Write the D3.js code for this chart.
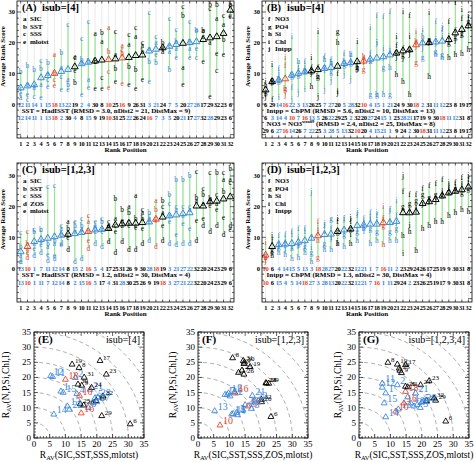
<!DOCTYPE html>
<html>
<head>
<meta charset="utf-8">
<script src="https://cdn.jsdelivr.net/npm/d3@7"></script>
<style>
body { margin: 0; background: #fff; }
svg { display: block; }
text { font-family: "Liberation Serif", "DejaVu Serif", serif; }
</style>
</head>
<body>
<svg id="canvas" width="474" height="462"></svg>
<script>
// model groups (colour of the numbers / marks)
let blueModels = [1, 2, 3, 4, 5, 7, 11, 12, 13, 14, 15, 21, 22, 27, 28]
let redModels = [10, 16, 18]

// Panel A: isub=[4], letters a SIC, b SST, c SSS, e mlotst (values by rank position)
let rankA = [12,11,14,1,15,18,13,22,19,2,4,30,8,10,25,16,9,26,31,3,21,24,7,5,20,27,28,17,29,32,23,6]
let sstA  = [12,14,11,1,13,18,2,30,4,8,15,9,19,10,31,25,22,26,24,16,7,3,5,20,21,17,27,32,28,29,23,6]
let A_a = [2.0,6.5,5.5,6.5,10.0,16.1,12.0,8.0,15.5,13.5,8.0,23.0,20.4,24.8,16.0,19.0,19.3,22.0,19.0,18.0,20.0,17.0,17.0,18.0,12.0,18.0,24.2,24.0,20.0,28.0,26.0,32.4]
let A_b = [10.6,12.6,11.2,11.5,13.5,10.0,16.8,6.5,7.0,14.5,14.0,14.0,23.2,17.0,11.7,16.6,12.3,11.2,17.0,14.0,13.4,20.0,11.2,20.4,29.0,20.0,24.0,24.0,32.4,32.4,21.0,32.4]
let A_c = [5.0,1.5,2.5,14.2,8.0,7.9,9.0,25.9,15.0,21.5,27.0,14.0,8.5,10.6,23.7,17.7,22.8,24.8,20.0,29.7,22.0,18.3,28.0,24.2,31.8,27.0,15.0,22.0,31.3,11.0,29.0,29.0]
let A_e = [3.5,3.0,6.0,2.0,5.7,6.0,4.7,4.7,11.0,3.0,5.5,5.0,5.2,5.5,7.4,6.8,6.3,5.2,7.9,7.4,16.0,18.0,19.0,15.0,6.3,15.0,18.0,14.0,2.5,16.4,16.0,28.6]

// Panel B: isub=[4], letters f NO3, g PO4, h Si, i Chl, j Intpp
let rankB  = [6,29,14,16,22,3,13,26,25,7,27,20,5,28,32,10,4,15,1,21,24,9,30,18,2,31,11,12,23,8,19,17]
let intppB = [6,3,14,4,10,7,16,13,5,26,22,29,25,2,32,20,27,24,15,1,23,28,21,17,19,9,30,18,11,12,31,8]
let no3B   = [29,6,27,16,14,26,7,22,25,3,28,5,13,32,10,20,4,15,21,1,9,24,2,30,18,31,11,12,23,8,19,17]
let B_f = [3,1.5,11.7,12.5,5.3,10.6,13.9,12,12,15.5,14.5,10,16.6,16,13,14,16.6,29,28.6,30.2,19,18,29,20,20,20,27,24.2,27,24,28,28]
let B_g = [4,8,7.5,5.2,9.2,9.5,11,11,9,12.3,10.6,23.7,13,13.4,12,11.2,3,3,12,3,17,16,18,13.4,15,21,17,16,20,22,23,27]
let B_h = [6,7,8,5.2,9.2,14,10.6,5.8,9,14.5,13.5,20,14,16,12,15.5,14,3,3,12,9.6,7.4,3,20.4,22,9,16.1,15,15,16,16.6,17.7]
let B_i = [7.4,12.8,2,15,22,12.3,4.7,15,23.7,11,13.4,4.1,12.8,14,20.4,15,25,20,18,17,22,30.2,22,23.7,24.2,29.7,21,22,22,33,30.8,29]
let B_j = [2.5,7.2,9.8,3.1,1.4,3.6,12.3,10.2,2.3,4.7,7.5,3.7,9.6,8.1,11.6,14.3,14.4,20,15.4,17.8,15.4,15,16.5,19,18.3,20.3,20,25.3,21,21,23.1,25.8]

// Panel C: isub=[1,2,3], letters a SIC, b SST, c SSS, d ZOS, e mlotst
let rankC = [13,10,1,7,11,12,14,8,15,2,16,5,4,17,25,31,26,9,30,28,18,19,3,21,27,22,32,20,24,23,29,6]
let sstC  = [13,10,1,11,7,12,14,8,2,15,16,5,17,4,31,28,30,25,26,9,19,18,3,27,21,22,32,20,24,23,29,6]
let C_a = [4,6.5,8,9,7,8,13,15,12,13,15,14,13,14,16,14,20,23.7,18,16,22,18,17,19,17,19,22,21,22,21,29,29]
let C_b = [7,8,12,12.5,8,9,11,13,14,14,12,13,15,13,22.8,19,18,16,16,18,19,22,24,29,29,30.2,23,24,22.5,31,25,32.6]
let C_c = [11.5,12,12.5,12.5,26.5,26.8,14,11,13,16,17,12,16,15,14,15,15,14,19,17,16,20,21,20,20,20,31.6,26,31,24,31,28]
let C_d = [2,3.5,4,5,2.5,3,8,6,2,3,6.5,8,7,8.5,5.2,8.5,6,6,8,9,7,9,8,7.5,8,8,9,14,12,14,11,14]
let C_e = [2,5,6.5,7.5,4.5,4.2,7.5,10,15,12,9,15,12,14,12,15.5,14,13.3,13,15,15.5,14,15,11,14.5,12.8,15.4,16,20.5,19,16.5,12.4]

// Panel D: isub=[1,2,3], letters f NO3, g PO4, h Si, i Chl, j Intpp
let rankD  = [10,6,4,14,15,5,13,3,18,28,27,20,22,32,12,21,1,7,16,11,2,23,29,24,26,17,25,19,9,30,31,8]
let intppD = [10,6,15,4,5,14,18,27,3,28,13,20,22,32,12,21,7,16,1,11,29,24,2,23,26,25,19,17,9,30,31,8]
let D_f = [2.5,9,10.5,11,12,13,13,10,15,14,13,15,16,15,17,16,18,17,16,19,17,25,24,24,26,27,27.6,29,26,28,29.4,29]
let D_g = [4,6,7,8,7,8,7,5,3.5,8,16.3,12,11,13,12,14,13,12,14,12,13,20,21,22,24,23,24,24,25,26,24.5,26]
let D_h = [3.5,4,5,4.5,3,3.5,5,2,9,6,6,8,7,8,9,13,8,9,7.5,9,9,10.5,12,5.7,13,14,15,15,17,18,19,18.4]
let D_i = [8.4,10.5,8,9,11,10,12,6.6,13,12,10,16,12,11,12.5,12,16,18,20,15,22,4.6,14,20,21,22,23,25,28,27,28,30.3]
let D_j = [2.6,5.5,7.5,6.5,7,7.5,7.5,24.9,12,14.5,10,8.5,16,16.5,18.5,15,16.5,15.5,16.3,19,15,30,19,19.3,21,22,22,24.5,26.5,26,26.6,28.3]

// Panel G: isub=[1,2,3,4], by model number 1..32
let G_x = [8.5,12.2,19.5,16.5,20.0,27.6,15.5,9.2,13.5,11.7,7.4,7.4,12.5,8.5,8.0,14.3,14.8,14.8,12.2,21.5,18.0,18.5,22.3,19.6,13.0,14.8,17.5,20.5,24.4,12.8,15.5,23.9]
let G_y = [14.8,17.5,10.0,11.5,11.8,5.5,13.5,24.9,21.5,8.8,18.0,16.7,9.5,6.9,11.5,11.5,24.1,15.3,24.3,12.3,14.8,11.0,18.8,17.5,22.3,17.0,10.5,12.0,12.4,23.0,16.8,13.1]

const BLUE = '#3a88e0'
const RED = '#e8452c'
const GREEN = '#95e595'
const PX_PER_UNIT = 3.067

let svg = d3.select('#canvas')
svg.append('rect').attr('width', 474).attr('height', 462).attr('fill', '#fff')

let colorOf = (m) => redModels.includes(m) ? RED : (blueModels.includes(m) ? BLUE : '#000')

// mean score of a model in a rank panel
let meanOf = (rank, letters, m) => {
    let i = rank.indexOf(m)
    return d3.mean(letters.map(L => L[1][i]))
}

let drawRankPanel = (p) => {
    let g = svg.append('g')
    let x = d3.scaleLinear().domain([0.45, 32.55]).range([p.x0, p.x1])
    let y = d3.scaleLinear().domain([0, 30]).range([p.zero, p.zero - 30 * PX_PER_UNIT])
    let ranks = d3.range(1, 33)

    // faint vertical guide at every rank position
    g.selectAll('line.guide').data(ranks).enter().append('line')
        .attr('x1', d => x(d)).attr('x2', d => x(d))
        .attr('y1', p.top).attr('y2', p.bottom)
        .attr('stroke', '#dcdcdc').attr('stroke-width', 0.6)

    let cols = p.rank.map((m, i) => {
        let vals = p.letters.map(L => ({ k: L[0], v: L[1][i] }))
        return { m: m, r: i + 1, vals: vals, mean: d3.mean(vals, d => d.v) }
    })

    // green range line min..max
    g.selectAll('line.range').data(cols).enter().append('line')
        .attr('x1', d => x(d.r)).attr('x2', d => x(d.r))
        .attr('y1', d => y(d3.min(d.vals, v => v.v)))
        .attr('y2', d => y(d3.max(d.vals, v => v.v)))
        .attr('stroke', GREEN).attr('stroke-width', 1.2)

    // letters
    cols.forEach(c => {
        g.selectAll(null).data(c.vals).enter().append('text')
            .attr('x', x(c.r)).attr('y', d => y(d.v))
            .attr('text-anchor', 'middle').attr('dominant-baseline', 'central')
            .attr('font-size', 7.5).attr('fill', colorOf(c.m))
            .text(d => d.k)
    })

    // average marker
    g.selectAll('path.tri').data(cols).enter().append('path')
        .attr('d', d3.symbol().type(d3.symbolTriangle).size(20))
        .attr('transform', d => `translate(${x(d.r)},${y(d.mean)})`)
        .attr('fill', 'none').attr('stroke', d => colorOf(d.m)).attr('stroke-width', 1)

    // model numbers at zero line and extra rows
    let numRow = (row, yy) => {
        g.selectAll(null).data(row).enter().append('text')
            .attr('x', (d, i) => x(i + 1)).attr('y', yy)
            .attr('text-anchor', 'middle').attr('dominant-baseline', 'central')
            .attr('font-size', 6.6).attr('font-weight', 'bold').attr('letter-spacing', -0.3)
            .attr('fill', d => colorOf(d)).text(d => d)
    }
    numRow(p.rank, p.zero)
    p.extra.forEach((e, k) => {
        let ty = p.zero + p.step * (2 * k + 1)
        let t = g.append('text').attr('x', x(1) + 1).attr('y', ty)
            .attr('dominant-baseline', 'central').attr('font-size', 7).attr('font-weight', 'bold')
        e[0].forEach(seg => {
            let ts = t.append('tspan').text(seg[0])
            if (seg[1] == 'sup') ts.attr('font-size', 4.5).attr('baseline-shift', 'super')
        })
        numRow(e[1], p.zero + p.step * (2 * k + 2))
    })

    // frame
    g.append('rect').attr('x', p.x0).attr('y', p.top)
        .attr('width', p.x1 - p.x0).attr('height', p.bottom - p.top)
        .attr('fill', 'none').attr('stroke', '#000').attr('stroke-width', 0.8)

    // ticks on y (major 10, minor 2), both sides
    let yMin = y.invert(p.bottom), yMax = y.invert(p.top)
    let minors = d3.range(Math.ceil(yMin / 2) * 2, yMax, 2)
    minors.forEach(v => {
        let len = v % 10 == 0 ? 4 : 2
        g.append('line').attr('x1', p.x0).attr('x2', p.x0 + len).attr('y1', y(v)).attr('y2', y(v)).attr('stroke', '#000').attr('stroke-width', 0.6)
        g.append('line').attr('x1', p.x1).attr('x2', p.x1 - len).attr('y1', y(v)).attr('y2', y(v)).attr('stroke', '#000').attr('stroke-width', 0.6)
    })
    g.selectAll(null).data([0, 10, 20, 30]).enter().append('text')
        .attr('x', p.x0 - 2).attr('y', d => y(d)).attr('text-anchor', 'end')
        .attr('dominant-baseline', 'central').attr('font-size', 6.5).attr('font-weight', 'bold')
        .text(d => d)

    // rank ticks top and bottom
    ranks.forEach(r => {
        g.append('line').attr('x1', x(r)).attr('x2', x(r)).attr('y1', p.bottom).attr('y2', p.bottom - 2.5).attr('stroke', '#000').attr('stroke-width', 0.6)
        g.append('line').attr('x1', x(r)).attr('x2', x(r)).attr('y1', p.top).attr('y2', p.top + 2.5).attr('stroke', '#000').attr('stroke-width', 0.6)
    })
    g.selectAll(null).data(ranks).enter().append('text')
        .attr('x', d => x(d)).attr('y', p.bottom + 5.5)
        .attr('text-anchor', 'middle').attr('dominant-baseline', 'central')
        .attr('font-size', 6.3).attr('font-weight', 'bold').attr('letter-spacing', -0.3).text(d => d)
    g.append('text').attr('x', (p.x0 + p.x1) / 2).attr('y', p.bottom + 12)
        .attr('text-anchor', 'middle').attr('dominant-baseline', 'central')
        .attr('font-size', 7).attr('font-weight', 'bold').text('Rank Position')
    g.append('text')
        .attr('transform', `translate(${p.x0 - 12},${(p.top + p.zero) / 2 + 4}) rotate(-90)`)
        .attr('text-anchor', 'middle').attr('font-size', 7).attr('font-weight', 'bold')
        .text('Average Rank Score')

    // title
    g.append('text').attr('x', p.x0 + 5).attr('y', p.top + 10)
        .attr('font-size', 10.5).attr('font-weight', 'bold').text(p.tag)
    g.append('text').attr('x', p.x0 + 25).attr('y', p.top + 10)
        .attr('font-size', 10.5).attr('font-weight', 'bold').text(p.sub)

    // legend
    p.legend.forEach((l, i) => {
        let ly = p.top + 18 + i * 7.5
        g.append('text').attr('x', p.x0 + 6).attr('y', ly).attr('dominant-baseline', 'central')
            .attr('font-size', 7).attr('font-weight', 'bold').text(l[0])
        g.append('text').attr('x', p.x0 + 13).attr('y', ly).attr('dominant-baseline', 'central')
            .attr('font-size', 7).attr('font-weight', 'bold').text(l[1])
    })
}

let drawScatter = (p) => {
    let g = svg.append('g')
    let x = d3.scaleLinear().domain([0, 35]).range([p.x0, p.x1])
    let y = d3.scaleLinear().domain([0, 35]).range([p.y1, p.y0])
    let clipId = 'clip' + p.tag.replace(/\W/g, '')
    svg.append('clipPath').attr('id', clipId).append('rect')
        .attr('x', p.x0).attr('y', p.y0).attr('width', p.x1 - p.x0).attr('height', p.y1 - p.y0)

    // dashed iso-distance arcs
    let angles = d3.range(0, 91, 3)
    let arc = d3.line().x(d => x(d[0])).y(d => y(d[1]))
    g.append('g').attr('clip-path', `url(#${clipId})`)
        .selectAll('path').data(d3.range(5, 50, 5)).enter().append('path')
        .attr('d', r => arc(angles.map(a => [r * Math.cos(a * Math.PI / 180), r * Math.sin(a * Math.PI / 180)])))
        .attr('fill', 'none').attr('stroke', '#9a9a9a').attr('stroke-width', 0.8).attr('stroke-dasharray', '4,3')

    let pts = d3.range(1, 33).map(m => ({ m: m, x: p.xs[m - 1], y: p.ys[m - 1] }))
    g.selectAll('path.tri').data(pts).enter().append('path')
        .attr('d', d3.symbol().type(d3.symbolTriangle).size(15))
        .attr('transform', d => `translate(${x(d.x)},${y(d.y)})`)
        .attr('fill', 'none').attr('stroke', d => colorOf(d.m)).attr('stroke-width', 0.9)
    g.selectAll('text.lab').data(pts).enter().append('text')
        .attr('x', d => x(d.x) + 3).attr('y', d => y(d.y) - 1)
        .attr('font-size', d => colorOf(d.m) == '#000' ? 7 : 10)
        .attr('fill', d => colorOf(d.m)).text(d => d.m)

    g.append('rect').attr('x', p.x0).attr('y', p.y0)
        .attr('width', p.x1 - p.x0).attr('height', p.y1 - p.y0)
        .attr('fill', 'none').attr('stroke', '#000').attr('stroke-width', 0.8)

    d3.range(0, 36).forEach(v => {
        let len = v % 5 == 0 ? 4 : 2
        g.append('line').attr('x1', x(v)).attr('x2', x(v)).attr('y1', p.y1).attr('y2', p.y1 - len).attr('stroke', '#000').attr('stroke-width', 0.6)
        g.append('line').attr('x1', x(v)).attr('x2', x(v)).attr('y1', p.y0).attr('y2', p.y0 + len).attr('stroke', '#000').attr('stroke-width', 0.6)
        g.append('line').attr('x1', p.x0).attr('x2', p.x0 + len).attr('y1', y(v)).attr('y2', y(v)).attr('stroke', '#000').attr('stroke-width', 0.6)
        g.append('line').attr('x1', p.x1).attr('x2', p.x1 - len).attr('y1', y(v)).attr('y2', y(v)).attr('stroke', '#000').attr('stroke-width', 0.6)
    })
    let ticks = d3.range(0, 36, 5)
    g.selectAll(null).data(ticks).enter().append('text')
        .attr('x', d => x(d)).attr('y', p.y1 + 9).attr('text-anchor', 'middle')
        .attr('font-size', 9).text(d => d)
    g.selectAll(null).data(ticks).enter().append('text')
        .attr('x', p.x0 - 3).attr('y', d => y(d) + 3).attr('text-anchor', 'end')
        .attr('font-size', 9).text(d => d)

    let xt = g.append('text').attr('x', (p.x0 + p.x1) / 2).attr('y', p.y1 + 20)
        .attr('text-anchor', 'middle').attr('font-size', 9.5)
    xt.append('tspan').text('R')
    xt.append('tspan').attr('font-size', 6.5).attr('dy', 2).text('AV')
    xt.append('tspan').attr('dy', -2).text(p.xlab)
    let yt = g.append('text').attr('transform', `translate(${p.ylx},${(p.y0 + p.y1) / 2}) rotate(-90)`)
        .attr('text-anchor', 'middle').attr('font-size', 9.5)
    yt.append('tspan').text('R')
    yt.append('tspan').attr('font-size', 6.5).attr('dy', 2).text('AV')
    yt.append('tspan').attr('dy', -2).text('(N,P,Si,Chl,I)')

    g.append('text').attr('x', p.x0 + 4).attr('y', p.y0 + 11)
        .attr('font-size', 11).attr('font-weight', 'bold').text(p.tag)
    g.append('text').attr('x', p.x1 - 4).attr('y', p.y0 + 11).attr('text-anchor', 'end')
        .attr('font-size', 10).text(p.sub)
}

let lettersA = [['a', A_a], ['b', A_b], ['c', A_c], ['e', A_e]]
let lettersB = [['f', B_f], ['g', B_g], ['h', B_h], ['i', B_i], ['j', B_j]]
let lettersC = [['a', C_a], ['b', C_b], ['c', C_c], ['d', C_d], ['e', C_e]]
let lettersD = [['f', D_f], ['g', D_g], ['h', D_h], ['i', D_i], ['j', D_j]]
let legendBio = [['f', 'NO3'], ['g', 'PO4'], ['h', 'Si'], ['i', 'Chl'], ['j', 'Intpp']]

drawRankPanel({ tag: '(A)', sub: 'isub=[4]', x0: 17, x1: 234, top: 1, zero: 104, bottom: 138, step: 6.8,
    letters: lettersA, legend: [['a', 'SIC'], ['b', 'SST'], ['c', 'SSS'], ['e', 'mlotst']], rank: rankA,
    extra: [[[['SST = HadISST (RMSD = 3.0, nDist2 = 21, DistMax = 9)']], sstA]] })
drawRankPanel({ tag: '(B)', sub: 'isub=[4]', x0: 262, x1: 472, top: 1, zero: 104, bottom: 138, step: 6.6,
    letters: lettersB, legend: legendBio, rank: rankB,
    extra: [[[['Intpp = CbPM (RMSD = 5.6, nDist2 = 10, DistMax = 13)']], intppB],
            [[['NO3 = NO3'], ['woa09', 'sup'], [' (RMSD = 2.4, nDist2 = 25, DistMax = 8)']], no3B]] })
drawRankPanel({ tag: '(C)', sub: 'isub=[1,2,3]', x0: 17, x1: 234, top: 163, zero: 268, bottom: 302, step: 7,
    letters: lettersC, legend: [['a', 'SIC'], ['b', 'SST'], ['c', 'SSS'], ['d', 'ZOS'], ['e', 'mlotst']], rank: rankC,
    extra: [[[['SST = HadISST (RMSD = 1.2, nDist2 = 30, DistMax = 4)']], sstC]] })
drawRankPanel({ tag: '(D)', sub: 'isub=[1,2,3]', x0: 262, x1: 472, top: 163, zero: 268, bottom: 302, step: 7,
    letters: lettersD, legend: legendBio, rank: rankD,
    extra: [[[['Intpp = CbPM (RMSD = 1.3, nDist2 = 30, DistMax = 4)']], intppD]] })

let models = d3.range(1, 33)
drawScatter({ tag: '(E)', sub: 'isub=[4]', x0: 34, x1: 144, y0: 332, y1: 438, ylx: 9,
    xlab: '(SIC,SST,SSS,mlotst)',
    xs: models.map(m => meanOf(rankA, lettersA, m)), ys: models.map(m => meanOf(rankB, lettersB, m)) })
drawScatter({ tag: '(F)', sub: 'isub=[1,2,3]', x0: 198, x1: 308, y0: 332, y1: 438, ylx: 176,
    xlab: '(SIC,SST,SSS,ZOS,mlotst)',
    xs: models.map(m => meanOf(rankC, lettersC, m)), ys: models.map(m => meanOf(rankD, lettersD, m)) })
drawScatter({ tag: '(G)', sub: 'isub=[1,2,3,4]', x0: 359, x1: 469, y0: 332, y1: 438, ylx: 341,
    xlab: '(SIC,SST,SSS,ZOS,mlotst)', xs: G_x, ys: G_y })
</script>
</body>
</html>
